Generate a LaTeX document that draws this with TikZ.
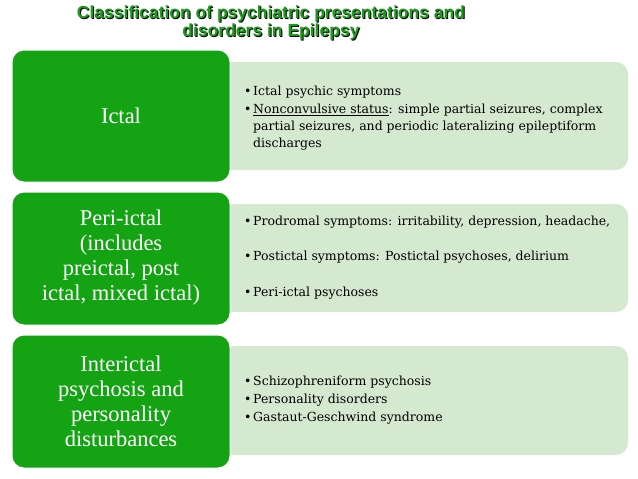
\documentclass[tikz,border=0pt]{standalone}
\usepackage{fontspec}
\setmainfont{Liberation Serif}
\newfontfamily\titlefont{Liberation Sans}
\newfontfamily\bodyfont{DejaVu Serif}
\definecolor{dg}{HTML}{13A313}
\definecolor{lg}{HTML}{D5E8D0}
\definecolor{tg}{HTML}{1E9A1E}
\newcommand{\bitem}[1]{\makebox[9pt][l]{•}\parbox[t]{370pt}{\raggedright #1}}
\begin{document}
\begin{tikzpicture}[x=1pt,y=-1pt,
  bigbox/.style={fill=dg,rounded corners=12pt,draw=white,line width=1pt},
  smallbox/.style={fill=lg,rounded corners=12pt},
  bigtxt/.style={text=white,font=\fontsize{22.5}{25}\selectfont,align=center},
  smalltxt/.style={text=black,font=\bodyfont\fontsize{12.5}{17}\selectfont,anchor=north west,inner sep=0pt}]
\useasboundingbox (0,0) rectangle (638,479);
\fill[white] (0,0) rectangle (638,479);
% title
\node[font=\titlefont\bfseries\fontsize{17.5}{18.5}\selectfont,text=black,align=center] at (272,24) {Classification of psychiatric presentations and\\disorders in Epilepsy};
\node (title) [font=\titlefont\bfseries\fontsize{17.5}{18.5}\selectfont,text=tg,align=center] at (271,23) {Classification of psychiatric presentations and\\disorders in Epilepsy};
% light boxes
\fill[smallbox] (222,62) rectangle (628,170);
\fill[smallbox] (222,204) rectangle (628,312);
\fill[smallbox] (222,346) rectangle (628,455);
% green boxes
\draw[bigbox] (12,50) rectangle (230,182);
\draw[bigbox] (12,192) rectangle (230,325);
\draw[bigbox] (12,335) rectangle (230,468);
\node (a) [bigtxt] at (121,116) {Ictal};
\node (b) [bigtxt] at (121,258) {Peri-ictal\\(includes\\preictal, post\\ictal, mixed ictal)};
\node (c) [bigtxt] at (121,401) {Interictal\\psychosis and\\personality\\disturbances};
\node (a1) [smalltxt] at (244,86) {\bitem{Ictal psychic symptoms}};
\node (a2) [smalltxt] at (244,104) {\bitem{\underline{Nonconvulsive status}: simple partial seizures, complex\newline partial seizures, and periodic lateralizing epileptiform\newline discharges}};
\node (b1) [smalltxt] at (244,216) {\bitem{Prodromal symptoms: irritability, depression, headache,}};
\node (b2) [smalltxt] at (244,251) {\bitem{Postictal symptoms: Postictal psychoses, delirium}};
\node (b3) [smalltxt] at (244,287) {\bitem{Peri-ictal psychoses}};
\node (c1) [smalltxt] at (244,376) {\bitem{Schizophreniform psychosis}};
\node (c2) [smalltxt] at (244,394) {\bitem{Personality disorders}};
\node (c3) [smalltxt] at (244,412) {\bitem{Gastaut-Geschwind syndrome}};
\end{tikzpicture}
\end{document}
